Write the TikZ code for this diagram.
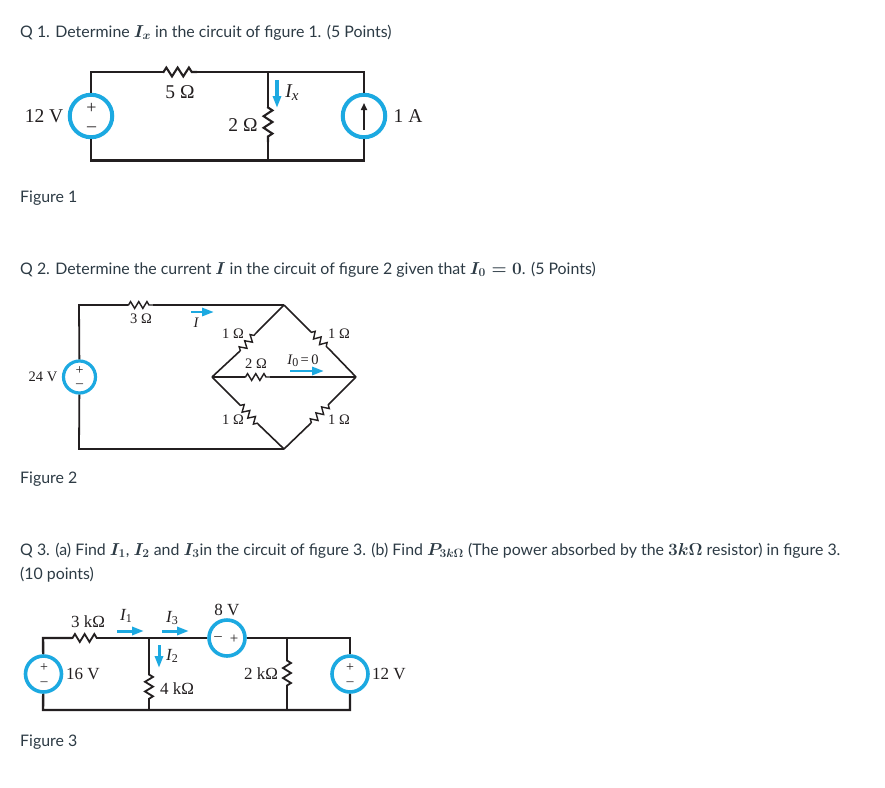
\documentclass[tikz,border=0pt]{standalone}
\usepackage{fontspec}
\setmainfont{Lato}
\newfontfamily\cserif{Liberation Serif}
\usetikzlibrary{decorations.pathmorphing,arrows.meta}
\definecolor{srcblue}{HTML}{1CA9E1}
\definecolor{wirek}{HTML}{231F20}
\definecolor{txtk}{HTML}{2D3B45}
\newcommand{\mth}[1]{{\fontsize{17.6}{18}\selectfont\boldmath$#1$}}
\tikzset{
  x=1pt,y=-1pt,
  qtext/.style={anchor=base west,inner sep=0pt,text=txtk,font=\fontsize{15.9}{18}\selectfont},
  lab/.style={inner sep=0pt,text=wirek,font=\cserif\fontsize{#1}{#1}\selectfont},
  lab/.default=18,
  wire/.style={draw=wirek,line width=#1,line join=miter},
  wire/.default=2.8pt,
  res/.style 2 args={decorate,decoration={zigzag,segment length=#1,amplitude=#2,pre length=0.5pt,post length=0.5pt}},
  src/.style 2 args={circle,draw=srcblue,line width=#2,minimum size=#1,inner sep=0pt,fill=white},
  flow/.style={draw=srcblue,line width=#1,-{Triangle[length=12pt,width=8pt]}},
}
\begin{document}
\begin{tikzpicture}
\useasboundingbox (0,0) rectangle (885,787);
\fill[white] (0,0) rectangle (885,787);
%% texts
\node[qtext] (q1) at (20,37) {Q 1. Determine \mth{I_x} in the circuit of figure 1. (5 Points)};
\node[qtext] (f1) at (20,202) {Figure 1};
\node[qtext] (q2) at (20,274) {Q 2. Determine the current \mth{I} in the circuit of figure 2 given that \mth{I_0=0}. (5 Points)};
\node[qtext] (f2) at (20,483) {Figure 2};
\node[qtext] (q3) at (20,555) {Q 3. (a) Find \mth{I_1}, \mth{I_2} and \mth{I_3}in the circuit of figure 3. (b) Find \mth{P_{3k\Omega}} (The power absorbed by the \mth{3k\Omega} resistor) in figure 3.};
\node[qtext] (q3b) at (20,579) {(10 points)};
\node[qtext] (f3) at (20,746) {Figure 3};

%% Figure 1
\coordinate (a1) at (91,72); \coordinate (a2) at (268,72); \coordinate (a3) at (364,72);
\coordinate (b1) at (91,160.5); \coordinate (b2) at (268,160.5); \coordinate (b3) at (364,160.5);
\coordinate (r1a) at (163,72); \coordinate (r1b) at (197,72);
\coordinate (r2a) at (268,107); \coordinate (r2b) at (268,142);
\node[src={42.5pt}{4pt}] (s1) at (91,116) {};
\node[src={42.5pt}{4pt}] (s2) at (364,116) {};
\draw[wire] (s1) -- (a1) -- (r1a);
\draw[wire] (r1b) -- (a2) -- (a3) -- (s2);
\draw[wire] (s1) -- (b1) -- (b3) -- (s2);
\draw[wire] (a2) -- (r2a); \draw[wire] (r2b) -- (b2);
\draw[wire=2.1pt,res={11.3pt}{4.4pt}] (r1a) -- (r1b);
\draw[wire=2.1pt,res={11.6pt}{4.4pt}] (r2a) -- (r2b);
\node[lab=18] (p1) at (91.5,108.5) {+};
\node[lab=18] (m1) at (91.5,129.5) {–};
\coordinate (ia) at (364,130); \coordinate (ib) at (364,103);
\draw[draw=wirek,line width=1.6pt,-{Triangle[length=7pt,width=6pt]}] (ia) -- (ib);
\coordinate (fa) at (277,80); \coordinate (fb) at (277,108);
\draw[flow=3.2pt] (fa) -- (fb);
\node[lab=19.5] (l5) at (180,92) {5 Ω};
\node[lab=19.5] (l12) at (44,116) {12 V};
\node[lab=19.5] (l2) at (243,125) {2 Ω};
\node[lab=19.5] (l1a) at (408,116) {1 A};
\node[lab=19.5] (lix) at (292,93) {\itshape I\raisebox{-3pt}{\fontsize{15}{15}\selectfont x}};

%% Figure 2
\coordinate (c1) at (79,305); \coordinate (c2) at (284,305);
\coordinate (d1) at (79,449); \coordinate (d2) at (284,449);
\coordinate (w) at (212,377); \coordinate (e) at (356,377);
\coordinate (t1a) at (128,305); \coordinate (t1b) at (153,305);
\coordinate (ra) at (240,351); \coordinate (rb) at (257,332);
\coordinate (sa) at (311,332); \coordinate (sb) at (329,349);
\coordinate (ua) at (240,405); \coordinate (ub) at (258,424);
\coordinate (va) at (311,423); \coordinate (vb) at (329,404);
\coordinate (ma) at (245,377); \coordinate (mb) at (270,377);
\node[src={32pt}{3.2pt}] (s3) at (79.5,377) {};
\draw[wire=1.8pt] (s3) -- (c1) -- (t1a);
\draw[wire=1.8pt] (t1b) -- (c2);
\draw[wire=1.8pt] (s3) -- (d1) -- (d2);
\draw[wire=1.6pt] (w) -- (ra); \draw[wire=1.6pt] (rb) -- (c2);
\draw[wire=1.6pt] (c2) -- (sa); \draw[wire=1.6pt] (sb) -- (e);
\draw[wire=1.6pt] (w) -- (ua); \draw[wire=1.6pt] (ub) -- (d2);
\draw[wire=1.6pt] (d2) -- (va); \draw[wire=1.6pt] (vb) -- (e);
\draw[wire=1.6pt] (w) -- (ma); \draw[wire=1.6pt] (mb) -- (e);
\foreach \p/\q in {t1a/t1b,ma/mb,ra/rb,sa/sb,ua/ub,va/vb}
  \draw[wire=1.4pt,res={8.2pt}{3.4pt}] (\p) -- (\q);
\node[lab=14] (p3) at (79.5,370.5) {+};
\node[lab=14] (m3) at (79.5,386) {–};
\coordinate (ga) at (191,312); \coordinate (gb) at (214,312);
\draw[flow=2.8pt] (ga) -- (gb);
\coordinate (ha) at (290,371); \coordinate (hb) at (324,371);
\draw[flow=2.8pt] (ha) -- (hb);
\node[lab=14.5] (l24) at (43,377) {24 V};
\node[lab=14.5] (l3) at (141,319) {3 Ω};
\node[lab=14.5] (li) at (196,323) {\itshape I};
\node[lab=14.5] (lw1) at (233,334) {1 Ω};
\node[lab=14.5] (le1) at (339,334) {1 Ω};
\node[lab=14.5] (lm2) at (256,364) {2 Ω};
\node[lab=14.5] (lio) at (303,361) {\itshape I\raisebox{-2pt}{\fontsize{12}{12}\selectfont\upshape 0}\upshape\,=\,0};
\node[lab=14.5] (lw3) at (233,420) {1 Ω};
\node[lab=14.5] (le3) at (339,420) {1 Ω};

%% Figure 3
\coordinate (g1) at (43,638); \coordinate (g2) at (149,638); \coordinate (g3) at (287,638); \coordinate (g4) at (350,638);
\coordinate (h1) at (43,710); \coordinate (h2) at (149,710); \coordinate (h3) at (287,710); \coordinate (h4) at (350,710);
\coordinate (k1a) at (72,638); \coordinate (k1b) at (101,638);
\coordinate (k2a) at (149,674); \coordinate (k2b) at (149,703);
\coordinate (k3a) at (287,660); \coordinate (k3b) at (287,690);
\node[src={36pt}{3.6pt}] (s4) at (43.5,674) {};
\node[src={36pt}{3.6pt}] (s5) at (350,674) {};
\node[src={36pt}{3.6pt}] (s6) at (227,638) {};
\draw[wire=2.4pt] (s4) -- (g1) -- (k1a);
\draw[wire=2.4pt] (k1b) -- (g2) -- (s6);
\draw[wire=2.4pt] (s6) -- (g3) -- (g4) -- (s5);
\draw[wire=2.4pt] (s4) -- (h1) -- (h4) -- (s5);
\draw[wire=2pt] (g2) -- (k2a); \draw[wire=2pt] (k2b) -- (h2);
\draw[wire=2pt] (g3) -- (k3a); \draw[wire=2pt] (k3b) -- (h3);
\draw[wire=1.8pt,res={9.7pt}{4pt}] (k1a) -- (k1b);
\draw[wire=1.8pt,res={9.7pt}{4pt}] (k2a) -- (k2b);
\draw[wire=1.8pt,res={10pt}{4pt}] (k3a) -- (k3b);
\node[lab=14] (p4) at (44,667.5) {+};
\node[lab=14] (m4) at (44,684) {–};
\node[lab=14] (p5) at (350,667.5) {+};
\node[lab=14] (m5) at (350,684) {–};
\node[lab=15] (m6) at (218,639) {–};
\node[lab=15] (p6) at (234,639) {+};
\coordinate (n1a) at (117,631); \coordinate (n1b) at (144,631);
\coordinate (n2a) at (162,631); \coordinate (n2b) at (189,631);
\coordinate (n3a) at (159,645); \coordinate (n3b) at (159,668);
\draw[flow=3pt] (n1a) -- (n1b);
\draw[flow=3pt] (n2a) -- (n2b);
\draw[flow=3pt] (n3a) -- (n3b);
\node[lab=17] (l3k) at (88,622) {3 kΩ};
\node[lab=17] (li1) at (126,616) {\itshape I\raisebox{-2pt}{\fontsize{12}{12}\selectfont\upshape 1}};
\node[lab=17] (li3) at (172,618) {\itshape I\raisebox{-2pt}{\fontsize{12}{12}\selectfont\upshape 3}};
\node[lab=17] (l8) at (227,610) {8 V};
\node[lab=17] (li2) at (172,656) {\itshape I\raisebox{-2pt}{\fontsize{12}{12}\selectfont\upshape 2}};
\node[lab=17] (l16) at (83,674) {16 V};
\node[lab=17] (l4k) at (177,689) {4 kΩ};
\node[lab=17] (l2k) at (261,674) {2 kΩ};
\node[lab=17] (l12b) at (389,674) {12 V};
\end{tikzpicture}
\end{document}
